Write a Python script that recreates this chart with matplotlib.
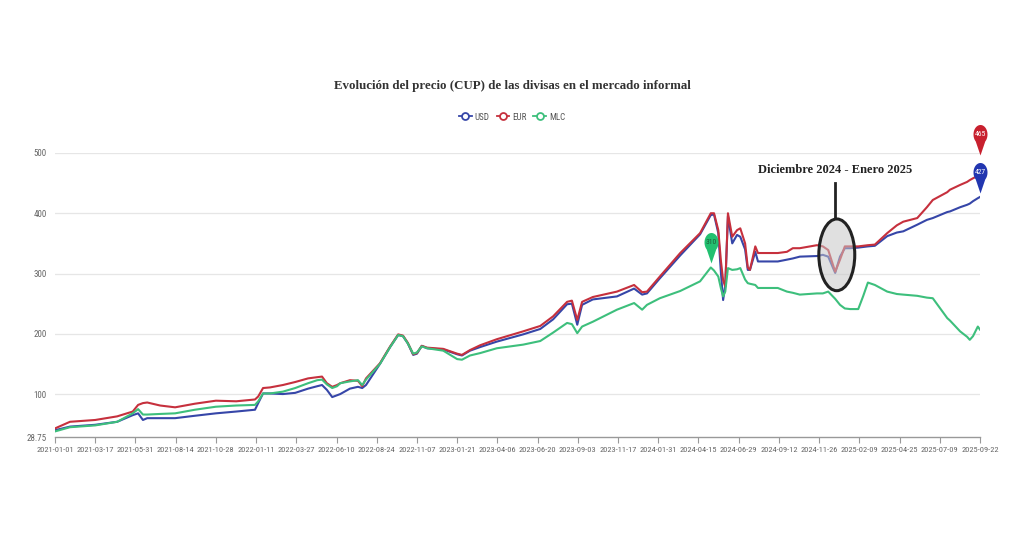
import numpy as np
import matplotlib
matplotlib.use('Agg')
import matplotlib.pyplot as plt
import matplotlib.dates as mdates
import matplotlib.transforms as mtransforms
from matplotlib.path import Path
from matplotlib.patches import Ellipse
from matplotlib.lines import Line2D
import pandas as pd

# ---------------- data ----------------
dates = [
    "2021-01-01", "2021-01-29", "2021-03-17", "2021-04-27", "2021-05-26", "2021-06-05",
    "2021-06-14", "2021-06-22", "2021-07-16", "2021-08-13", "2021-09-19", "2021-10-28",
    "2021-12-05", "2022-01-09", "2022-01-15", "2022-01-24", "2022-02-06", "2022-03-02",
    "2022-03-25", "2022-04-18", "2022-05-05", "2022-05-14", "2022-05-23", "2022-06-02",
    "2022-06-11", "2022-06-17", "2022-07-05", "2022-07-20", "2022-07-28", "2022-08-04",
    "2022-08-30", "2022-09-18", "2022-10-03", "2022-10-12", "2022-10-21", "2022-10-31",
    "2022-11-07", "2022-11-16", "2022-11-26", "2022-12-26", "2023-01-21", "2023-01-30",
    "2023-02-14", "2023-03-05", "2023-04-05", "2023-05-24", "2023-06-25", "2023-07-19",
    "2023-08-14", "2023-08-23", "2023-09-02", "2023-09-11", "2023-10-01", "2023-11-15",
    "2023-12-17", "2024-01-01", "2024-01-10", "2024-02-03", "2024-03-12", "2024-04-18",
    "2024-05-08", "2024-05-14", "2024-05-22", "2024-05-27", "2024-05-31", "2024-06-04",
    "2024-06-09", "2024-06-17", "2024-06-26", "2024-07-02", "2024-07-11", "2024-07-16",
    "2024-07-20", "2024-07-30", "2024-08-04", "2024-09-10", "2024-09-27", "2024-10-08",
    "2024-10-21", "2024-11-22", "2024-12-03", "2024-12-13", "2024-12-26", "2025-01-04",
    "2025-01-13", "2025-01-23", "2025-02-07", "2025-02-16", "2025-02-25", "2025-03-10",
    "2025-04-02", "2025-04-20", "2025-05-02", "2025-05-28", "2025-06-15", "2025-06-26",
    "2025-07-23", "2025-07-28", "2025-08-16", "2025-08-29", "2025-09-03", "2025-09-09",
    "2025-09-18", "2025-09-22",
]
usd = [
    40, 46, 49, 54, 65, 68, 57, 60, 60, 60, 64, 68,
    71, 74, 85, 101, 101, 100, 102, 109, 113, 115, 107, 95,
    98, 100, 109, 112, 110, 115, 150, 178, 198, 196, 184, 165,
    167, 180, 176, 174, 166, 164, 172, 178, 187, 199, 208, 224,
    249, 250, 215, 248, 257, 262, 275, 265, 267, 292, 330, 365,
    397, 398, 367, 300, 256, 280, 395, 350, 364, 361, 340, 306,
    306, 336, 320, 320, 323, 325, 328, 329, 331, 328, 301, 328,
    342, 342, 343, 344, 345, 346, 362, 368, 370, 381, 389, 392,
    402, 403, 410, 414, 416, 420, 425, 427,
]
eur = [
    43, 54, 57, 63, 71, 82, 85, 86, 81, 78, 84, 89,
    88, 91, 96, 110, 111, 115, 120, 126, 128, 129, 118, 112,
    115, 118, 123, 122, 113, 126, 151, 179, 199, 197, 185, 166,
    168, 180, 177, 175, 167, 165, 173, 181, 191, 204, 213, 229,
    253, 255, 223, 253, 261, 270, 281, 269, 270, 295, 334, 367,
    400, 400, 372, 320, 289, 278, 400, 361, 372, 375, 350, 310,
    306, 345, 334, 334, 336, 342, 342, 347, 345, 339, 303, 323,
    345, 345, 345, 346, 347, 348, 367, 380, 386, 392, 410, 422,
    435, 439, 447, 452, 455, 458, 462, 465,
]
mlc = [
    38, 45, 48, 54, 68, 75, 66, 66, 67, 68, 74, 79,
    81, 82, 88, 101, 101, 104, 110, 118, 123, 124, 116, 110,
    113, 118, 121, 123, 115, 124, 150, 178, 198, 196, 184, 167,
    169, 179, 176, 172, 158, 157, 164, 168, 176, 182, 188, 202,
    218, 216, 201, 212, 220, 240, 251, 240, 248, 259, 271, 287,
    310, 305, 295, 275, 262, 270, 309, 306, 307, 309, 290, 284,
    283, 281, 276, 276, 270, 268, 265, 267, 267, 270, 258, 248,
    242, 241, 241, 262, 285, 281, 270, 266, 265, 263, 260, 259,
    226, 222, 204, 195, 190, 196, 212, 207,
]
series_names = ["USD", "EUR", "MLC"]
series_colors = ["#3646a8", "#c6303d", "#3dbf7c"]
title = "Evolución del precio (CUP) de las divisas en el mercado informal"
annotation = "Diciembre 2024 - Enero 2025"
y_ticks = [28.75, 100, 200, 300, 400, 500]
x_start, x_end, x_step_days = "2021-01-01", "2025-09-22", 75

# ---------------- figure ----------------
serif_bold = ['Roboto Slab', 'DejaVu Serif Condensed', 'Liberation Serif']
narrow = ['Roboto Condensed', 'Liberation Sans Narrow', 'Roboto']

fig = plt.figure(figsize=(10.24, 5.36), dpi=100)
fig.patch.set_facecolor('white')
ax = fig.add_axes([0.0537, 0.1847, 0.9033, 0.5299])

x = pd.to_datetime(dates)
for vals, name, col in zip([usd, eur, mlc], series_names, series_colors):
    ax.plot(x, vals, color=col, lw=1.5, label=name, zorder=3,
            solid_joinstyle='round')

ax.set_xlim(pd.Timestamp(x_start), pd.Timestamp(x_end))
ax.set_ylim(y_ticks[0], y_ticks[-1])

xt = pd.date_range(x_start, x_end, freq=f"{x_step_days}D")
ax.set_xticks(xt)
ax.set_xticklabels([d.strftime("%Y-%m-%d") for d in xt], family=narrow,
                   fontsize=6, color='#666666')
ax.set_yticks(y_ticks)
ax.set_yticklabels([f"{v:g}" for v in y_ticks], family=narrow, fontsize=6.5,
                   color='#666666')
ax.tick_params(axis='y', length=0, pad=6)
ax.tick_params(axis='x', length=4, color='#999999', pad=3)
for s in ['top', 'right', 'left']:
    ax.spines[s].set_visible(False)
ax.spines['bottom'].set_color('#999999')
ax.spines['bottom'].set_linewidth(1.0)
for v in y_ticks[1:]:
    ax.axhline(v, color='#e6e6e6', lw=0.9, zorder=0)

# ---------------- title and legend ----------------
fig.text(0.5, 1 - 86 / 536, title, ha='center', va='center', family=serif_bold,
         fontweight='bold', fontsize=9.3, color='#333333')
handles = [Line2D([], [], color=c, lw=1.3, marker='o', markersize=5,
                  markerfacecolor='white', markeredgewidth=1.3)
           for c in series_colors]
leg = fig.legend(handles, series_names, loc='center', ncol=3,
                 bbox_to_anchor=(0.5, 1 - 117 / 536), frameon=False,
                 handlelength=1.4, handletextpad=0.3, columnspacing=0.8,
                 prop={'family': narrow, 'size': 6.5})
for t in leg.get_texts():
    t.set_color('#555555')

# ---------------- pins ----------------
a, b, c = 7.0, 9.5, 21.0
t = np.linspace(-np.pi / 2 + 0.75, 3 * np.pi / 2 - 0.75, 60)
verts = np.column_stack([a * np.cos(t), c + b * np.sin(t)])
verts = np.vstack([[0, 0], verts, [0, 0]])
codes = [Path.MOVETO] + [Path.LINETO] * (len(verts) - 2) + [Path.CLOSEPOLY]
pin_path = Path(verts, codes)
top = c + b
ms = top * 2 * 72 / 100  # marker size so that top is `top` px above tip


def pin(xd, yd, color, label, tcolor, dy_px):
    off = mtransforms.ScaledTranslation(0, dy_px / 100, fig.dpi_scale_trans)
    tr = ax.transData + off
    ax.plot([xd], [yd], marker=pin_path, markersize=ms, color=color,
            markeredgewidth=0, transform=tr, zorder=6, clip_on=False)
    off2 = mtransforms.ScaledTranslation(0, (dy_px + c) / 100, fig.dpi_scale_trans)
    ax.text(xd, yd, label, transform=ax.transData + off2, ha='center', va='center',
            fontsize=5.5, color=tcolor, zorder=7, family=narrow)


xe = x[-1]
pin(xe, eur[-1], '#c8202e', f"{eur[-1]}", 'white', 19)
pin(xe, usd[-1], '#2236b0', f"{usd[-1]}", 'white', 4)
imax = int(np.argmax(mlc))
pin(x[imax], mlc[imax], '#22c070', f"{mlc[imax]}", '#1d5e3a', 4)

# ---------------- annotation ----------------
ell_center = pd.Timestamp("2024-12-29")
ell = Ellipse((mdates.date2num(ell_center), 331), width=67, height=119,
              facecolor=(0.78, 0.78, 0.78, 0.55), edgecolor='#222222', lw=2.2,
              zorder=5)
ax.add_patch(ell)
xa = pd.Timestamp("2024-12-26")
ax.plot([xa, xa], [392, 450], color='#222222', lw=2.0, zorder=5)
ax.text(xa, 472, annotation, ha='center', va='center', family=serif_bold,
        fontweight='bold', fontsize=9, color='#222222', zorder=6)

fig.savefig('out.png', dpi=100, facecolor='white')
